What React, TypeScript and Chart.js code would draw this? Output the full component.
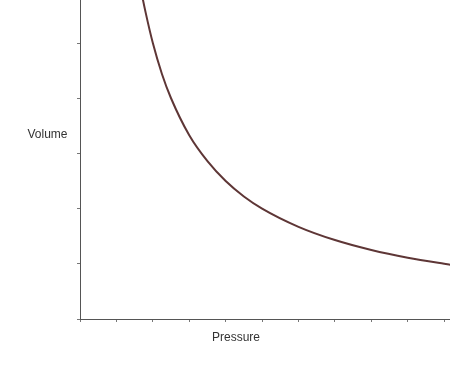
import React, { useEffect, useRef } from "react";
import { Chart, registerables } from "chart.js";

Chart.register(...registerables);

const pressure = [1.6, 1.7, 1.8, 2, 2.25, 2.5, 3, 3.5, 4, 4.5, 5, 6, 7, 8, 9, 10, 10.2];
const volume = [6.25, 5.88, 5.56, 5, 4.44, 4, 3.33, 2.86, 2.5, 2.22, 2, 1.67, 1.43, 1.25, 1.11, 1, 0.98];
const xTicks = [0, 1, 2, 3, 4, 5, 6, 7, 8, 9, 10];
const yTicks = [0, 1, 2, 3, 4, 5];
const xLabel = "Pressure";
const yLabel = "Volume";

export default function App() {
  const ref = useRef<HTMLCanvasElement | null>(null);

  useEffect(() => {
    if (!ref.current) return;
    const labelsPlugin = {
      id: "axisLabels",
      afterDraw(chart: any) {
        const ctx = chart.ctx;
        ctx.save();
        ctx.font = '12px "Liberation Sans", Arial, sans-serif';
        ctx.fillStyle = "#333";
        ctx.textAlign = "center";
        ctx.textBaseline = "middle";
        ctx.fillText(yLabel, 47.5, 135);
        ctx.fillText(xLabel, 236, 338);
        ctx.restore();
      },
    };
    const chart = new Chart(ref.current, {
      type: "line",
      data: {
        datasets: [
          {
            data: pressure.map((p, i) => ({ x: p, y: volume[i] })),
            borderColor: "#5e3636",
            borderWidth: 2,
            pointRadius: 0,
            cubicInterpolationMode: "monotone",
            fill: false,
          },
        ],
      },
      options: {
        animation: false,
        responsive: false,
        layout: { padding: 0 },
        plugins: { legend: { display: false }, tooltip: { enabled: false } },
        scales: {
          x: {
            type: "linear",
            min: 0,
            max: 10.16,
            afterBuildTicks: (s: any) => {
              s.ticks = xTicks.map((v) => ({ value: v }));
            },
            afterFit: (s: any) => {
              s.height = 51;
            },
            ticks: { display: false },
            grid: { drawOnChartArea: false, drawTicks: true, tickLength: 3, color: "#777" },
            border: { color: "#555", width: 1 },
          },
          y: {
            type: "linear",
            min: 0,
            max: 5.78,
            afterBuildTicks: (s: any) => {
              s.ticks = yTicks.map((v) => ({ value: v }));
            },
            afterFit: (s: any) => {
              s.width = 80;
            },
            ticks: { display: false },
            grid: { drawOnChartArea: false, drawTicks: true, tickLength: 3, color: "#777" },
            border: { color: "#555", width: 1 },
          },
        },
      },
      plugins: [labelsPlugin],
    });
    return () => chart.destroy();
  }, []);

  return (
    <div style={{ position: "fixed", left: 0, top: 0, width: 450, height: 370, background: "#fff" }}>
      <canvas ref={ref} width={450} height={370} />
    </div>
  );
}
